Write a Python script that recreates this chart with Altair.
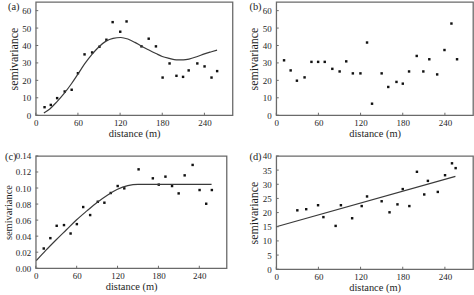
import altair as alt
import pandas as pd

# ---- (a) ----
a_dist = [12.5, 21.4, 30.4, 41.2, 51.1, 60.0, 69.4, 80.2, 90.6, 100.5, 109.4, 120.2, 129.2,
          150.4, 160.7, 171.0, 180.5, 190.4, 200.2, 209.6, 217.6, 229.9, 240.2, 250.1, 258.1]
a_semi = [4.6, 5.9, 9.8, 13.6, 14.6, 24.1, 34.9, 36.0, 39.3, 43.3, 53.4, 47.9, 53.8,
          39.5, 43.9, 39.5, 21.6, 29.7, 22.6, 22.0, 25.7, 29.7, 28.0, 21.6, 25.3]
a_fit_dist = [11.5, 20, 30, 41, 51, 60, 70, 80, 90, 100, 110, 121, 131, 141, 150, 161,
              171, 180, 190, 200, 210, 218, 230, 240, 250, 258]
a_fit_semi = [1.3, 3.6, 7.7, 12.8, 18.2, 23.6, 29.7, 34.9, 39.3, 42.5, 44.1, 44.6, 43.7,
              41.8, 39.7, 37.4, 35.4, 33.7, 32.6, 31.8, 31.8, 32.2, 33.7, 35.2, 36.4, 37.3]

# ---- (b) ----
b_dist = [11.1, 20.5, 29.4, 40.3, 50.1, 59.6, 69.0, 79.8, 90.2, 99.6, 109.0, 119.8, 129.2,
          136.3, 150.0, 159.4, 171.1, 180.1, 189.0, 199.9, 209.3, 217.8, 229.0, 239.4, 249.3, 257.3]
b_semi = [31.5, 25.7, 19.8, 21.7, 30.6, 30.6, 30.6, 26.6, 25.1, 30.9, 24.0, 24.0, 41.7,
          6.6, 24.0, 16.2, 19.1, 18.1, 25.1, 34.0, 25.1, 32.1, 23.4, 37.4, 52.6, 32.1]

# ---- (c) ----
c_dist = [11.7, 21.4, 30.7, 41.4, 51.1, 60.3, 69.6, 79.8, 91.0, 100.7, 110.0, 120.2, 129.9,
          150.9, 171.8, 180.5, 190.3, 200.0, 209.7, 218.5, 230.2, 240.4, 250.1, 258.4]
c_semi = [0.0246, 0.0375, 0.0529, 0.0538, 0.0433, 0.0550, 0.0763, 0.0663, 0.0829, 0.0817,
          0.0938, 0.1025, 0.0996, 0.1233, 0.1121, 0.1042, 0.1142, 0.1025, 0.0933, 0.1158,
          0.1288, 0.0975, 0.0804, 0.0975]
c_fit_dist = [1, 15, 30, 45, 60, 75, 90, 105, 120, 135, 150, 258]
c_fit_semi = [0.0096, 0.0225, 0.0355, 0.0480, 0.0605, 0.0715, 0.0820, 0.0910, 0.0985,
              0.1030, 0.1046, 0.1046]

# ---- (d) ----
d_dist = [30.0, 42.6, 59.5, 67.1, 84.5, 92.0, 108.0, 121.6, 129.2, 150.0, 161.2, 172.5,
          180.0, 189.4, 200.2, 210.6, 215.8, 229.9, 240.2, 250.1, 255.3]
d_semi = [20.8, 21.2, 22.6, 18.4, 15.3, 22.6, 18.0, 22.3, 25.7, 24.0, 20.1, 22.9,
          28.3, 22.3, 34.4, 26.4, 31.2, 27.3, 33.2, 37.4, 35.7]
d_fit_dist = [0, 255]
d_fit_semi = [15.0, 32.8]

# ---- axis ticks ----
x_ticks = [0, 60, 120, 180, 240]
ab_ticks = [0, 10, 20, 30, 40, 50, 60]
c_ticks = [0, 0.02, 0.04, 0.06, 0.08, 0.10, 0.12, 0.14]
d_ticks = [0, 5, 10, 15, 20, 25, 30, 35, 40]

FONT = "Liberation Serif"
INK = "#1e1e1e"
FRAME = "#6a6a6a"
LINE = "#3a3a3a"


def panel(dist, semi, fit_dist, fit_semi, ydomain, yticks, yfmt, width, height,
          tag, tag_dx, tag_dy, ytitle_size):
    xs = alt.Scale(domain=[0, 280], nice=False, zero=False)
    ys = alt.Scale(domain=ydomain, nice=False, zero=False)
    x_axis = alt.Axis(title="distance (m)", values=x_ticks, format="d", grid=False,
                      domain=False, ticks=False, labelPadding=3, titlePadding=1,
                      labelOverlap=False, labelFlush=False, labelBound=False,
                      labelFont=FONT, titleFont=FONT, labelFontSize=9, titleFontSize=10.5,
                      labelColor=INK, titleColor=INK, titleFontWeight="normal")
    y_axis = alt.Axis(title="semivariance", values=yticks, format=yfmt, grid=False,
                      domain=False, ticks=False, labelPadding=5, titlePadding=1.5,
                      labelOverlap=False, labelFlush=False, labelBound=False,
                      labelFont=FONT, titleFont=FONT, labelFontSize=9,
                      titleFontSize=ytitle_size, labelColor=INK, titleColor=INK,
                      titleFontWeight="normal")

    def X(field="d"):
        return alt.X(f"{field}:Q", scale=xs, axis=x_axis)

    def Y(field="s"):
        return alt.Y(f"{field}:Q", scale=ys, axis=y_axis)

    pts = alt.Chart(pd.DataFrame({"d": dist, "s": semi})).mark_square(
        size=6, color="#111111", opacity=1
    ).encode(x=X(), y=Y())
    layers = [pts]
    if fit_dist:
        fit = alt.Chart(pd.DataFrame({"d": fit_dist, "s": fit_semi})).mark_line(
            color=LINE, strokeWidth=1.2, interpolate="monotone"
        ).encode(x=X(), y=Y())
        layers.append(fit)

    # short inward tick marks along the bottom and left edges
    xt = alt.Chart(pd.DataFrame({"d": x_ticks})).mark_rule(
        color=FRAME, strokeWidth=1
    ).encode(x=X(), y=alt.value(height), y2=alt.value(height - 2.5))
    yt = alt.Chart(pd.DataFrame({"s": yticks})).mark_rule(
        color=FRAME, strokeWidth=1
    ).encode(y=Y(), x=alt.value(0), x2=alt.value(2.5))
    lab = alt.Chart(pd.DataFrame({"tag": [tag]})).mark_text(
        font=FONT, fontSize=10.5, color=INK, align="left", baseline="middle"
    ).encode(text="tag:N", x=alt.value(tag_dx), y=alt.value(tag_dy))
    layers += [xt, yt, lab]
    return alt.layer(*layers).properties(width=width, height=height)


pa = panel(a_dist, a_semi, a_fit_dist, a_fit_semi, [0, 65], ab_ticks, "d", 198, 114,
           "(a)", -28, 5, 12)
pb = panel(b_dist, b_semi, None, None, [0, 65], ab_ticks, "d", 198, 114,
           "(b)", -27, 5, 12)
pc = panel(c_dist, c_semi, c_fit_dist, c_fit_semi, [0, 0.14], c_ticks, ".2f", 192, 113,
           "(c)", -31, 1, 10.5)
pd_ = panel(d_dist, d_semi, d_fit_dist, d_fit_semi, [0, 40], d_ticks, "d", 198, 114,
            "(d)", -27, 1, 12)

chart = alt.concat(
    pa, pb, pc, pd_, columns=2, spacing={"row": 41, "column": 44}, bounds="flush"
).properties(
    padding={"left": 3, "top": 0, "right": 0, "bottom": 0},
    background="white",
).configure_view(
    stroke=FRAME, strokeWidth=1.3
)

chart.save("out.html", embed_options={"renderer": "svg", "actions": False})
